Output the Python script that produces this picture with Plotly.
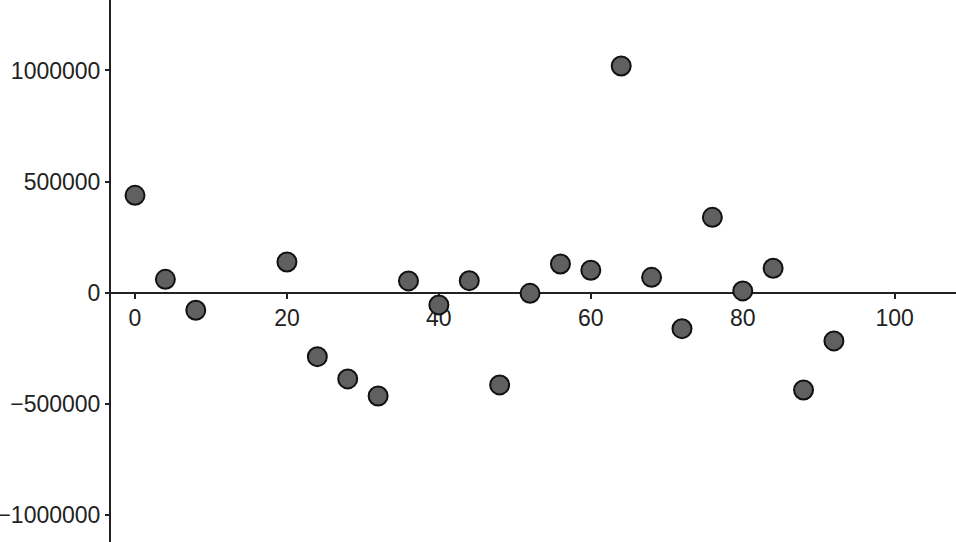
import plotly.graph_objects as go

x_vals = [0, 4, 8, 20, 24, 28, 32, 36, 40, 44, 48, 52, 56, 60, 64, 68, 72, 76, 80, 84, 88, 92]
y_vals = [438000, 60000, -79000, 138000, -288000, -388000, -465000, 53000, -55000, 54000,
          -415000, -3000, 129000, 101000, 1020000, 69000, -162000, 339000, 8000, 110000,
          -438000, -217000]

x_tickvals = [0, 20, 40, 60, 80, 100]
x_ticktext = ["0", "20", "40", "60", "80", "100"]
y_tickvals = [-1000000, -500000, 0, 500000, 1000000]
y_ticktext = ["\u22121000000", "\u2212500000", "0", "500000", "1000000"]

x_range = [-3.16, 108.07]
y_range = [-1122000, 1317000]

fig = go.Figure(go.Scatter(
    x=x_vals, y=y_vals, mode="markers",
    marker=dict(size=19, color="#606060", line=dict(width=2, color="#111111")),
    cliponaxis=False,
))

axis_color = "#222222"
font = dict(family="Liberation Sans, Arial, Helvetica, sans-serif", size=23, color="#222222")

fig.update_layout(
    width=956, height=542,
    margin=dict(l=111, r=0, t=0, b=0),
    plot_bgcolor="white", paper_bgcolor="white",
    showlegend=False,
    font=font,
    xaxis=dict(
        range=x_range, tickvals=x_tickvals, ticktext=x_ticktext,
        showgrid=False, zeroline=False, showline=True, linecolor=axis_color, linewidth=2,
        ticks="outside", ticklen=5, tickwidth=2, tickcolor=axis_color,
        anchor="free", position=(0 - y_range[0]) / (y_range[1] - y_range[0]),
        layer="below traces", tickfont=font,
    ),
    yaxis=dict(
        range=y_range, tickvals=y_tickvals, ticktext=y_ticktext,
        showgrid=False, zeroline=False, showline=True, linecolor=axis_color, linewidth=2,
        ticks="outside", ticklen=4, tickwidth=2, tickcolor=axis_color,
        layer="below traces", tickfont=font, automargin=False,
    ),
)

fig.write_html(
    "out.html",
    config={"displayModeBar": False},
    post_script="document.body.style.margin='0';document.body.style.padding='0';document.body.style.overflow='hidden';",
)
